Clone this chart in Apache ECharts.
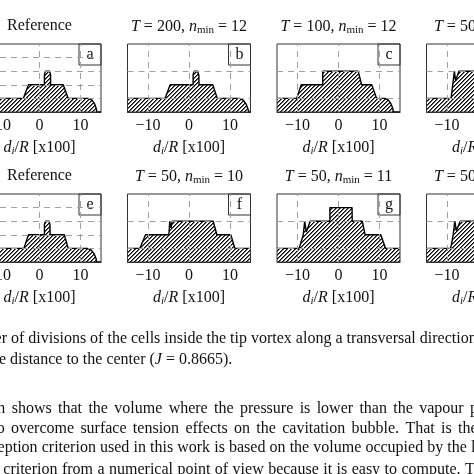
<!DOCTYPE html>
<html>
<head>
<meta charset="utf-8">
<script src="https://cdn.jsdelivr.net/npm/echarts@6.0.0/dist/echarts.min.js"></script>
<style>
html, body { margin: 0; padding: 0; background: #fff; }
#chart { width: 474px; height: 474px; }
</style>
</head>
<body>
<div id="chart"></div>
<script>
// number of divisions vs distance to the centre, [d_i/R (x100), level]
const refTop = [[-15, 1], [-3.95, 1], [-2.7, 2], [1.2, 2], [1.2, 2.75], [1.45, 3], [2.45, 3], [2.7, 2.75], [2.7, 2], [5.8, 2], [7.0, 1], [11.9, 1], [12.8, 0.88], [13.4, 0.62], [13.8, 0.3], [14.0, 0], [15, 0]]
const t200n12 = [[-15, 1], [-5.85, 1], [-4.6, 2], [1.0, 2], [1.0, 2.75], [1.25, 3], [2.1, 3], [2.4, 2.7], [2.45, 2], [5.8, 2], [6.9, 1], [12.3, 1], [13.2, 0.88], [13.9, 0.6], [14.3, 0.3], [14.6, 0], [15, 0]]
const t100n12 = [[-15, 1], [-10.2, 1], [-9.1, 2], [-3.85, 2], [-3.85, 3], [4.8, 3], [5.65, 2], [8.1, 2], [9.3, 1], [11.3, 1], [12.2, 0.88], [12.8, 0.6], [13.2, 0.3], [13.4, 0], [15, 0]]
const t50n12 = [[-15, 1], [-9.0, 1], [-8.2, 3], [-7.9, 2.3], [-7.1, 3], [5.0, 3], [5.8, 2], [9.5, 2], [10.5, 1], [15, 1]]
const refBottom = [[-15, 1], [-3.8, 1], [-2.7, 2], [1.2, 2], [1.2, 2.75], [1.45, 3], [2.35, 3], [2.55, 2.75], [2.6, 2], [6.05, 2], [7.0, 1], [11.65, 1], [12.6, 0.88], [13.3, 0.62], [13.75, 0.3], [13.95, 0], [15, 0]]
const t50n10 = [[-15, 1], [-12.0, 1], [-10.6, 2], [-4.9, 2], [-4.7, 3], [-4.4, 2.5], [-4.1, 3], [5.9, 3], [6.8, 2], [10.2, 2], [11.2, 1], [15, 1]]
const t50n11 = [[-15, 1], [-9.6, 1], [-8.6, 2], [-8.25, 3], [-7.85, 2.2], [-6.9, 3], [-2.1, 3], [-2.1, 4], [3.3, 4], [3.35, 3], [5.8, 3], [6.5, 2], [10.3, 2], [11.5, 1], [15, 1]]
const t50n13 = [[-15, 1], [-9.1, 1], [-8.5, 2], [-8.1, 3], [-7.7, 2.3], [-6.8, 3], [-2.0, 3], [-2.0, 4], [3.3, 4], [3.35, 3], [5.8, 3], [6.5, 2], [10.3, 2], [11.5, 1], [15, 1]]

const panelData = [refTop, t200n12, t100n12, t50n12, refBottom, t50n10, t50n11, t50n13]
const panelTitles = ['Reference', '{i|T} = 200, {i|n}{s|min} = 12', '{i|T} = 100, {i|n}{s|min} = 12', '{i|T} = 50, {i|n}{s|min} = 12',
    'Reference', '{i|T} = 50, {i|n}{s|min} = 10', '{i|T} = 50, {i|n}{s|min} = 11', '{i|T} = 50, {i|n}{s|min} = 13']
const panelLetters = ['a', 'b', 'c', 'd', 'e', 'f', 'g', 'h']
const hGridLines = [[1, 2, 3, 4], [1, 3], [1, 3], [1, 3], [1, 2, 3, 4], [1, 3], [1, 3], [1, 3]]
const xTickLabels = { '-10': '\u221210', '0': '0', '10': '10' }
const vGridLines = [-10, 0, 10]

// text under the figure
const capL1 = ['number', 'of', 'divisions', 'of', 'the', 'cells', 'inside', 'the', 'tip', 'vortex', 'along', 'a', 'transversal', 'direction']
const capL2 = ['the', 'distance to the center ({i|J} = 0.8665).']
const paraL1 = ['comparison', 'shows', 'that', 'the', 'volume', 'where', 'the', 'pressure', 'is', 'lower', 'than', 'the', 'vapour', 'pressure']
const paraL2 = ['to', 'overcome', 'surface', 'tension', 'effects', 'on', 'the', 'cavitation', 'bubble.', 'That', 'is', 'the']
const paraL3 = ['inception', 'criterion', 'used', 'in', 'this', 'work', 'is', 'based', 'on', 'the', 'volume', 'occupied', 'by', 'the', 'low']
const paraL4 = ['a', 'criterion', 'from', 'a', 'numerical', 'point', 'of', 'view', 'because', 'it', 'is', 'easy', 'to', 'compute.', 'The']

const SERIF = '"Liberation Serif", "DejaVu Serif", serif'
const INK = '#111'
const PW = 123, PH = 68
const colX = [-22, 127.5, 277, 426.5]
const rowY = [44, 194]

// crisp 45 degree hatching tile
function hatch() {
    const c = document.createElement('canvas')
    c.width = 4; c.height = 4
    const g = c.getContext('2d')
    g.fillStyle = '#fff'
    g.fillRect(0, 0, 4, 4)
    for (let y = 0; y < 4; y++) {
        g.fillStyle = '#000'
        g.fillRect(3 - y, y, 1, 1)
        g.fillStyle = '#6a6a6a'
        g.fillRect((4 - y) % 4, y, 1, 1)
    }
    return c
}
const pattern = { image: hatch(), repeat: 'repeat' }

const meas = document.createElement('canvas').getContext('2d')
function textW(s) { meas.font = '16px ' + SERIF; return meas.measureText(s).width }

// justified line: first word ends before xs, last word starts at xl
function textLine(words, y, xs, xl) {
    const out = []
    let gap = textW(' ')
    if (xl != null) {
        let inner = 0
        for (let k = 1; k < words.length - 1; k++) inner += textW(words[k])
        gap = (xl - xs - inner) / (words.length - 2)
    }
    const base = { fill: INK, fontFamily: SERIF, fontSize: 16, verticalAlign: 'middle', textVerticalAlign: 'middle',
        rich: { i: { fontStyle: 'italic', fontFamily: SERIF, fontSize: 16, fill: INK } } }
    out.push({ type: 'text', x: xs - gap, y: y, style: Object.assign({}, base, { text: words[0], align: 'right', textAlign: 'right' }) })
    let x = xs
    for (let k = 1; k < words.length; k++) {
        out.push({ type: 'text', x: x, y: y, style: Object.assign({}, base, { text: words[k], align: 'left', textAlign: 'left' }) })
        x += textW(words[k]) + gap
    }
    return out
}

const richT = {
    i: { fontStyle: 'italic', fontFamily: SERIF, fontSize: 16, color: INK },
    s: { fontFamily: SERIF, fontSize: 11, color: INK, padding: [7, 0, 0, 0] }
}

const titles = [], grids = [], xAxes = [], yAxes = [], series = [], graphics = []
panelData.forEach((data, i) => {
    const px = colX[i % 4], py = rowY[Math.floor(i / 4)]
    titles.push({
        text: panelTitles[i], left: px + PW / 2, top: py - 26, textAlign: 'center', padding: 0,
        textStyle: { fontFamily: SERIF, fontSize: 16, fontWeight: 'normal', color: INK, rich: richT }
    })
    grids.push({
        left: px, top: py, width: PW, height: PH, show: true, z: 4,
        borderColor: '#333', borderWidth: 1, backgroundColor: 'transparent',
        containLabel: false, outerBoundsMode: 'none'
    })
    xAxes.push({
        gridIndex: i, type: 'value', min: -15, max: 15, interval: 5,
        name: '{i|d}{s|i}/{i|R} [x100]', nameLocation: 'middle', nameGap: 27,
        nameTextStyle: { fontFamily: SERIF, fontSize: 16, color: INK, rich: { i: richT.i, s: { fontFamily: SERIF, fontStyle: 'italic', fontSize: 11, color: INK, padding: [7, 0, 0, 0] } } },
        axisLine: { show: true, onZero: false, lineStyle: { color: '#333', width: 1 } },
        axisTick: { show: false },
        splitLine: { show: false },
        axisLabel: {
            margin: 6, fontFamily: SERIF, fontSize: 16, color: INK, hideOverlap: false,
            formatter: v => xTickLabels[String(v)] || ''
        }
    })
    yAxes.push({ gridIndex: i, type: 'value', min: 0, max: 5, show: false, splitLine: { show: false } })
    // dashed grid lines behind the hatching
    series.push({
        type: 'line', xAxisIndex: i, yAxisIndex: i, data: data, z: 1, silent: true,
        showSymbol: false, lineStyle: { opacity: 0 },
        markLine: {
            silent: true, symbol: ['none', 'none'], label: { show: false }, animation: false,
            lineStyle: { type: [6, 5], color: '#a0a0a0', width: 1 },
            data: vGridLines.map(v => ({ xAxis: v })).concat(hGridLines[i].map(v => ({ yAxis: v })))
        }
    })
    series.push({
        type: 'line', xAxisIndex: i, yAxisIndex: i, data: data, z: 3,
        showSymbol: false, lineStyle: { color: '#000', width: 1.4 },
        areaStyle: { color: pattern, opacity: 1 }
    })
    graphics.push({
        type: 'group', x: px + PW - 22, y: py, z: 10,
        children: [
            { type: 'rect', shape: { x: 0, y: 0, width: 22, height: 21 }, style: { fill: '#fff', stroke: '#333', lineWidth: 1 } },
            { type: 'text', x: 11, y: 10.5, style: { text: panelLetters[i], fill: INK, fontFamily: SERIF, fontSize: 16, align: 'center', verticalAlign: 'middle', textAlign: 'center', textVerticalAlign: 'middle' } }
        ]
    })
})

graphics.push(...textLine(capL1, 339, 11, null))
graphics.push(...textLine(capL2, 359.5, 10, null))
graphics.push(...textLine(paraL1, 408.5, 11.7, 470))
graphics.push(...textLine(paraL2, 428.5, 11, 458))
graphics.push(...textLine(paraL3, 447.5, 41.7, 471))
graphics.push(...textLine(paraL4, 469.5, 3.3, 465))

const myChart = echarts.init(document.getElementById('chart'), null, { renderer: 'canvas' })
myChart.setOption({
    animation: false,
    backgroundColor: '#fff',
    title: titles,
    grid: grids,
    xAxis: xAxes,
    yAxis: yAxes,
    series: series,
    graphic: graphics
})
</script>
</body>
</html>
